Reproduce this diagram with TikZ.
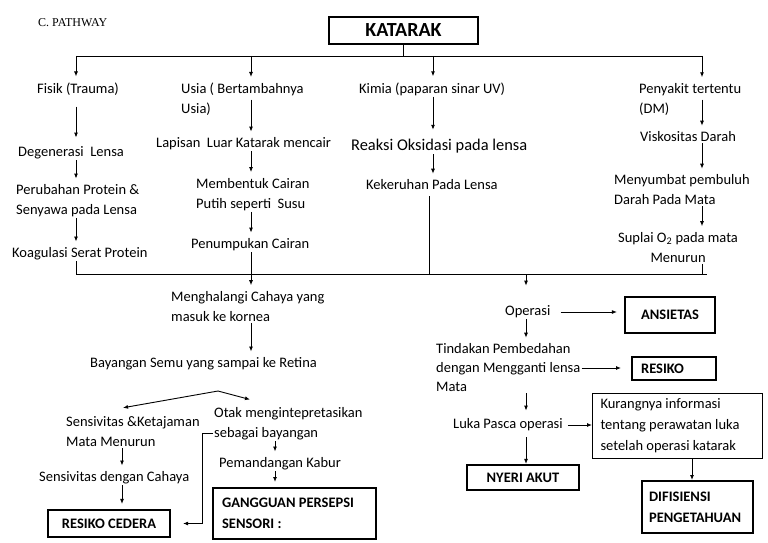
\documentclass[tikz,border=0pt]{standalone}
\usepackage{fontspec}
\setmainfont{Carlito}
\newfontfamily\ttlfont{Liberation Serif}
\usetikzlibrary{positioning,shapes,arrows,arrows.meta,calc}
\tikzset{
  txt/.style={anchor=west, inner sep=1pt, align=left, font=\fontsize{14.5}{20}\selectfont},
  diag/.style={draw, line width=2.2pt, inner xsep=9pt, align=flush left, font=\bfseries\fontsize{14.5}{21}\selectfont},
  link/.style={line width=0.9pt},
  arr/.style={line width=0.9pt, shorten >=5pt, -{Latex[length=5pt,width=4pt]}}
}

\begin{document}
\begin{tikzpicture}[x=1pt,y=-1pt]
  \useasboundingbox (0,0) rectangle (768,543);
  \coordinate (colA) at (76,0);
  \coordinate (colB) at (251,0);
  \coordinate (colC) at (433,0);
  \coordinate (colD) at (702,0);
  \coordinate (colE) at (526,0);
  \coordinate (colF) at (122,0);
  \coordinate (colG) at (275,0);
  \coordinate (colH) at (692,0);
  \coordinate (topbus) at (0,56);
  \coordinate (midbus) at (0,274);
  \coordinate (split) at (218,391);

  \node[anchor=west, inner sep=0pt, font=\ttlfont\fontsize{12}{14}\selectfont] (title) at (38,23) {C. PATHWAY};
  \node[draw, line width=1.3pt, minimum width=149pt, minimum height=27pt,
        font=\bfseries\fontsize{20}{24}\selectfont] (katarak) at (403.5,30.5) {KATARAK};

  % penyebab
  \node[txt] (fisik) at (36,89) {Fisik (Trauma)};
  \node[txt] (usia) at (180,99.5) {Usia ( Bertambahnya\\Usia)};
  \node[txt] (kimia) at (358,89) {Kimia (paparan sinar UV)};
  \node[txt] (penyakit) at (638,99.5) {Penyakit tertentu\\(DM)};

  \node[txt] (degen) at (17,153) {Degenerasi\ \ Lensa};
  \node[txt] (protein) at (15,201) {Perubahan Protein \&\\Senyawa pada Lensa};
  \node[txt] (koagulasi) at (11,254) {Koagulasi Serat Protein};

  \node[txt] (lapisan) at (155,144) {Lapisan\ \ Luar Katarak mencair};
  \node[txt] (cairan) at (195,194.5) {Membentuk Cairan\\Putih seperti\ \ Susu};
  \node[txt] (penumpukan) at (190,245) {Penumpukan Cairan};

  \node[txt, font=\fontsize{16.4}{20}\selectfont] (reaksi) at (350,146) {Reaksi Oksidasi pada lensa};
  \node[txt] (keruh) at (365,185) {Kekeruhan Pada Lensa};

  \node[txt] (viskositas) at (639,137) {Viskositas Darah};
  \node[txt] (sumbat) at (613,190) {Menyumbat pembuluh\\Darah Pada Mata};
  \node[txt, align=center] (suplai) at (617,247.5) {Suplai O\textsubscript{2} pada mata\\Menurun};

  % akibat
  \node[txt] (halang) at (170,306.5) {Menghalangi Cahaya yang\\masuk ke kornea};
  \node[txt] (bayangan) at (89,364) {Bayangan Semu yang sampai ke Retina};
  \node[txt] (ketajaman) at (65,432) {Sensivitas \&Ketajaman\\Mata Menurun};
  \node[txt] (sensitif) at (38,478) {Sensivitas dengan Cahaya};
  \node[diag, minimum width=122pt, minimum height=27pt, align=center] (cedera) at (109,523.5) {RESIKO CEDERA};
  \node[txt] (otak) at (213,424) {Otak mengintepretasikan\\sebagai bayangan};
  \node[txt] (kabur) at (218,464) {Pemandangan Kabur};
  \node[diag, anchor=north west, text width=145pt, minimum height=51pt] (persepsi) at (212,487) {GANGGUAN PERSEPSI\\SENSORI :};

  \node[txt] (operasi) at (504,312) {Operasi};
  \node[diag, minimum width=90pt, minimum height=36pt, align=center] (ansietas) at (670,315) {ANSIETAS};
  \node[txt, font=\fontsize{14.5}{19}\selectfont] (tindakan) at (435,368) {Tindakan Pembedahan\\dengan Mengganti lensa\\Mata};
  \node[diag, anchor=west, text width=66pt, minimum height=23pt] (resiko) at (631,368.5) {RESIKO};
  \node[txt] (luka) at (452,425) {Luka Pasca operasi};
  \node[draw, line width=1pt, anchor=north west, inner xsep=8pt, text width=154pt, minimum height=65pt,
        align=flush left, font=\fontsize{14.5}{21}\selectfont] (kurang) at (592,393) {Kurangnya informasi\\tentang perawatan luka\\setelah operasi katarak};
  \node[diag, minimum width=112pt, minimum height=25pt, align=center] (nyeri) at (523,477.5) {NYERI AKUT};
  \node[diag, anchor=north west, inner xsep=7pt, text width=97pt, minimum height=52pt] (pengetahuan) at (641,480) {DIFISIENSI\\PENGETAHUAN};

  % garis atas
  \draw[link] (katarak.south) -- (katarak.south |- topbus);
  \draw[link] (colA |- topbus) -- (colD |- topbus);
  \foreach \c/\n in {colA/fisik, colB/usia, colC/kimia, colD/penyakit}
    \draw[arr] (\c |- topbus) -- (\c |- \n.north);

  \draw[arr, shorten <=10pt, shorten >=8pt] (fisik.south -| colA) -- (degen.north -| colA);
  \draw[arr] (degen.south -| colA) -- (protein.north -| colA);
  \draw[arr] (protein.south -| colA) -- (koagulasi.north -| colA);
  \draw[arr] (usia.center -| colB) -- (lapisan.north -| colB);
  \draw[arr] (lapisan.south -| colB) -- (cairan.north -| colB);
  \draw[arr] (cairan.south -| colB) -- (penumpukan.north -| colB);
  \draw[arr, shorten >=8pt] (kimia.south -| colC) -- (reaksi.north -| colC);
  \draw[arr] (reaksi.south -| colC) -- (keruh.north -| colC);
  \draw[arr] (penyakit.center -| colD) -- (viskositas.north -| colD);
  \draw[arr] (viskositas.south -| colD) -- (sumbat.north -| colD);
  \draw[arr] (sumbat.south -| colD) -- (suplai.north -| colD);

  % garis tengah
  \draw[link] (colA |- midbus) -- ([xshift=5pt]colD |- midbus);
  \draw[link] (koagulasi.south -| colA) -- (colA |- midbus);
  \draw[link] (penumpukan.south -| colB) -- (colB |- midbus);
  \draw[link, shorten <=5pt] ([xshift=-4pt]keruh.south -| colC) -- ([xshift=-4pt]colC |- midbus);
  \draw[link] (suplai.south -| colD) -- (colD |- midbus);
  \draw[arr] (colB |- midbus) -- (colB |- halang.north);
  \draw[arr, shorten >=19pt] (colE |- midbus) -- (colE |- operasi.north);

  \draw[arr] (halang.south -| colB) -- (bayangan.north -| colB);
  \draw[arr, shorten >=0pt] (split) -- ($(ketajaman.north west)+(58,-8)$);
  \draw[arr, shorten >=0pt] (split) -- ($(otak.north west)+(37,-7)$);
  \draw[arr] (ketajaman.south -| colF) -- (sensitif.north -| colF);
  \draw[arr] (sensitif.south -| colF) -- (cedera.north -| colF);
  \draw[arr, shorten >=12pt] ($(otak.west)+(0,9)$) -- ++(-11,0) |- (cedera.east);
  \draw[arr] (otak.south -| colG) -- (kabur.north -| colG);
  \draw[arr] (kabur.south -| colG) -- (persepsi.north -| colG);

  \draw[arr, shorten <=9pt, shorten >=7pt] (operasi.east) -- (ansietas.west |- operasi.east);
  \draw[arr] (operasi.south -| colE) -- (tindakan.north -| colE);
  \draw[arr, shorten >=10pt] (tindakan.east) -- (resiko.west |- tindakan.east);
  \draw[arr, shorten >=7pt] (tindakan.south -| colE) -- (luka.north -| colE);
  \draw[arr, shorten <=4pt, shorten >=0pt] (luka.east) -- (kurang.west |- luka.east);
  \draw[arr, shorten <=5pt, shorten >=0pt] (luka.south -| colE) -- (nyeri.north -| colE);
  \draw[arr, shorten >=0pt] (kurang.south -| colH) -- (pengetahuan.north -| colH);
\end{tikzpicture}
\end{document}
